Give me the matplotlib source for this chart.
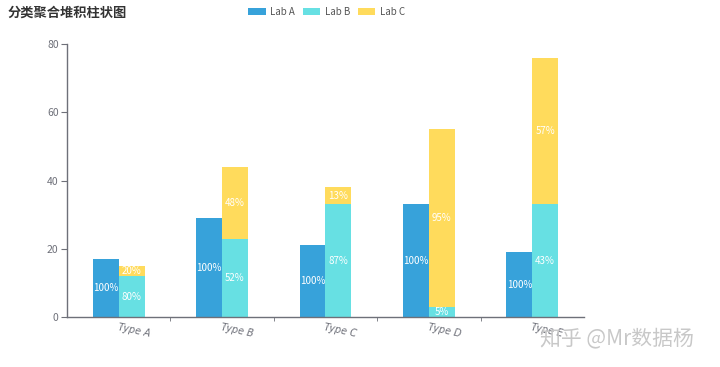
import numpy as np
import matplotlib
matplotlib.use('Agg')
import matplotlib.pyplot as plt
from matplotlib.patches import Patch

plt.rcParams['font.family'] = ['Noto Sans CJK SC', 'DejaVu Sans']

categories = ['Type A', 'Type B', 'Type C', 'Type D', 'Type E']
lab_a = [17, 29, 21, 33, 19]
lab_b = [12, 23, 33, 3, 33]
lab_c = [3, 21, 5, 52, 43]
series_names = ['Lab A', 'Lab B', 'Lab C']
colors = ['#37a2da', '#67e0e3', '#ffdb5c']

fig = plt.figure(figsize=(7.2, 3.67), dpi=100)
ax = fig.add_axes([0.093, 0.136, 0.718, 0.744])

x = np.arange(len(categories))
bw = 0.25
a = np.array(lab_a, dtype=float)
b = np.array(lab_b, dtype=float)
c = np.array(lab_c, dtype=float)

ax.bar(x - bw / 2, a, width=bw, color=colors[0], linewidth=0)
ax.bar(x + bw / 2, b, width=bw, color=colors[1], linewidth=0)
ax.bar(x + bw / 2, c, width=bw, bottom=b, color=colors[2], linewidth=0)

lab_kw = dict(color='white', fontsize=7, ha='center', va='center')
for i in range(len(categories)):
    tot = b[i] + c[i]
    ax.text(x[i] - bw / 2, a[i] / 2, '100%', **lab_kw)
    ax.text(x[i] + bw / 2, b[i] / 2, f'{round(b[i] / tot * 100):.0f}%', **lab_kw)
    ax.text(x[i] + bw / 2, b[i] + c[i] / 2, f'{round(c[i] / tot * 100):.0f}%', **lab_kw)

ax.set_xlim(-0.5, len(categories) - 0.5)
ax.set_ylim(0, 80)
ax.set_yticks([0, 20, 40, 60, 80])

for s in ['top', 'right']:
    ax.spines[s].set_visible(False)
for s in ['left', 'bottom']:
    ax.spines[s].set_color('#6e7079')
    ax.spines[s].set_linewidth(1)

ax.tick_params(axis='y', length=4, color='#6e7079', labelcolor='#6e7079', labelsize=7.5, pad=2)
ax.set_xticks(x)
ax.set_xticklabels([])
ax.tick_params(axis='x', which='major', length=0)
ax.set_xticks(np.arange(0.5, len(categories) - 0.5, 1), minor=True)
ax.tick_params(axis='x', which='minor', length=3, color='#6e7079')

for i, name in enumerate(categories):
    ax.text(x[i], -1.5, name, rotation=-12, rotation_mode='anchor', ha='left', va='top',
            fontsize=7, style='italic', color='#6e7079', family='DejaVu Sans')

fig.text(0.011, 0.965, '分类聚合堆积柱状图', fontsize=9.5, fontweight='bold',
         color='#333333', ha='left', va='center')

handles = [Patch(facecolor=colors[k], edgecolor='none', label=series_names[k]) for k in range(3)]
leg = fig.legend(handles=handles, loc='center', bbox_to_anchor=(0.4535, 0.968), ncol=3,
                 frameon=False, fontsize=7, handlelength=1.8, handleheight=0.8,
                 handletextpad=0.45, columnspacing=0.8)
for t in leg.get_texts():
    t.set_color('#555555')

fig.text(0.75, 0.078, '知乎 @Mr数据杨', fontsize=15, color='#c8c8c8', ha='left', va='center')

fig.savefig('out.png', dpi=100)
